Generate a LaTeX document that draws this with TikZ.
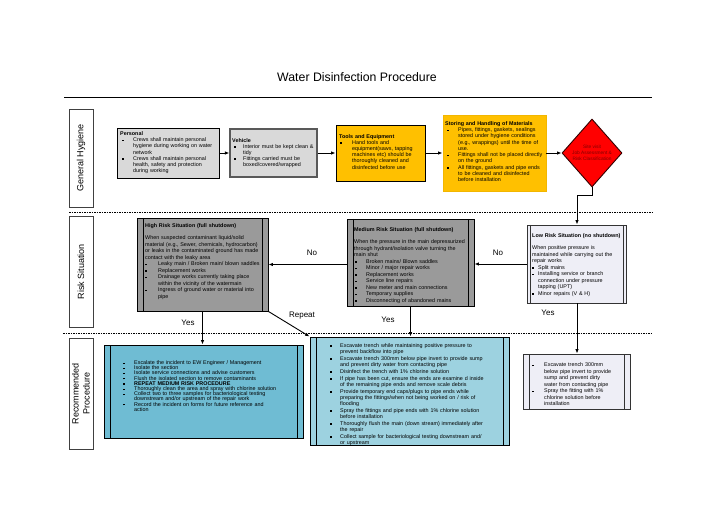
\documentclass[tikz,border=0pt]{standalone}
\usepackage{fontspec}
\setmainfont{Liberation Sans}
\usetikzlibrary{arrows.meta,shapes.geometric}
\definecolor{lgrey}{HTML}{D9D9D9}
\definecolor{mgrey}{HTML}{9A9A9A}
\definecolor{amber}{HTML}{FFC000}
\definecolor{amberedge}{HTML}{F2B600}
\definecolor{lav}{HTML}{EEEEF6}
\definecolor{blueA}{HTML}{6FBCD3}
\definecolor{blueB}{HTML}{9DD2E0}
\definecolor{dred}{HTML}{7F0000}
\newenvironment{blist}[3]{%
 \begin{list}{\rule[0.6bp]{1.3bp}{1.3bp}}{%
 \setlength\leftmargin{#1}\setlength\labelwidth{1.3bp}%
 \setlength\labelsep{\dimexpr #1-#2-1.3bp\relax}%
 \setlength\itemsep{#3}\setlength\parsep{0pt}\setlength\topsep{0pt}%
 \setlength\partopsep{0pt}\setlength\itemindent{0pt}\setlength\rightmargin{0pt}%
 \setlength\listparindent{0pt}}}%
 {\end{list}}
\begin{document}
\setlength\lineskiplimit{-6bp}
\begin{tikzpicture}[x=1bp,y=-1bp,
 box/.style={draw=black, line width=0.9bp, inner sep=0pt},
 dbl/.style={path picture={\draw[line width=0.9bp]
   ([xshift=#1]path picture bounding box.north west) -- ([xshift=#1]path picture bounding box.south west)
   ([xshift=-#1]path picture bounding box.north east) -- ([xshift=-#1]path picture bounding box.south east);}},
 dbl/.default=6bp,
 txt/.style={anchor=north west, inner sep=0pt, align=left, text width=#1},
 fs/.style={font=\fontsize{5.4bp}{#1}\selectfont},
 arr/.style={-{Latex[length=4.5bp,width=3.5bp]}, line width=0.9bp},
 lbl/.style={font=\fontsize{8bp}{9bp}\selectfont, inner sep=0pt},
 lane/.style={draw=black!75, line width=0.9bp, fill=white, inner sep=0pt, align=center,
   font=\fontsize{9bp}{11bp}\selectfont},
 sep/.style={line width=0.7bp, dash pattern=on 1.5bp off 1bp}]
\useasboundingbox[fill=white] (0,0) rectangle (728,515);

\node[font=\fontsize{12.3bp}{14bp}\selectfont] (title) at (357,77) {Water Disinfection Procedure};

% lane separators
\draw[line width=0.8bp] (64,97) -- (652,97);
\draw[sep] (69,212) -- (652,212);
\draw[sep] (63,333) -- (652,333);

% lane labels
\node[lane, rotate=90, minimum width=98bp, minimum height=24bp] (lg) at (81,158) {General Hygiene};
\node[lane, rotate=90, minimum width=111bp, minimum height=24bp] (lr) at (81,271.5) {Risk Situation};
\node[lane, rotate=90, minimum width=111bp, minimum height=24bp] (lp) at (81,393.5) {Recommended\\Procedure};

% general hygiene row
\node[box, fill=lgrey, minimum width=102bp, minimum height=50bp] (per) at (168,153) {};
\node[txt=100bp, fs=6.3bp] (pert) at (120,131) {\textbf{Personal}
 \begin{blist}{13bp}{2bp}{0pt}
 \item Crews shall maintain personal\\hygiene during working on water\\network
 \item Crews shall maintain personal\\health, safety and protection\\during working
 \end{blist}};

\node[box, draw=black!65, line width=1.2bp, fill=lgrey, minimum width=87bp, minimum height=48bp] (veh) at (273.5,153) {};
\node[txt=90bp, fs=6bp] (veht) at (232,138) {\textbf{Vehicle}
 \begin{blist}{11bp}{2bp}{0pt}
 \item Interior must be kept clean \&\\tidy
 \item Fittings carried must be\\boxed/covered/wrapped
 \end{blist}};

\node[box, fill=amber, minimum width=89bp, minimum height=56bp] (tool) at (380.5,153) {};
\node[txt=90bp, fs=6.2bp] (toolt) at (339,134) {\textbf{Tools and Equipment}
 \begin{blist}{13bp}{1bp}{0pt}
 \item Hand tools and\\equipment(saws, tapping\\machines etc) should be\\thoroughly cleaned and\\disinfected before use
 \end{blist}};

\node[box, draw=amberedge, fill=amber, minimum width=103bp, minimum height=76bp] (stor) at (494.5,153) {};
\node[txt=110bp, fs=6.3bp] (stort) at (445,121) {\textbf{Storing and Handling of Materials}
 \begin{blist}{13bp}{2bp}{0pt}
 \item Pipes, fittings, gaskets, sealings\\stored under hygiene conditions\\(e.g., wrappings) until the time of\\use.
 \item Fittings shall not be placed directly\\on the ground
 \item All fittings, gaskets and pipe ends\\to be cleaned and disinfected\\before installation
 \end{blist}};

\node[diamond, draw=black!80!red, line width=0.9bp, fill=red, minimum width=60bp, minimum height=68bp,
  inner sep=0pt, align=center, text=dred, font=\fontsize{4.8bp}{5.8bp}\selectfont] (dia) at (592,153)
  {Site visit\\Job Assessment \&\\Risk Classification};

\draw[arr] (per.east) -- (veh.west);
\draw[arr] (veh.east) -- (tool.west);
\draw[arr] (tool.east) -- (stor.west);
\draw[arr] (stor.east) -- (dia.west);

% risk row
\node[box, fill=mgrey, dbl, minimum width=131bp, minimum height=93bp] (hi) at (202.5,264.5) {};
\node[txt=125bp, fs=6.5bp] (hit) at (145,223) {\textbf{High Risk Situation (full shutdown)}\par\vspace{6bp}
 When suspected contaminant liquid/solid\\material (e.g., Sewer, chemicals, hydrocarbon)\\or leaks in the contaminated ground has made\\contact with the leaky area
 \begin{blist}{13bp}{0bp}{0pt}
 \item Leaky main / Broken main/ blown saddles
 \item Replacement works
 \item Drainage works currently taking place\\within the vicinity of the watermain
 \item Ingress of ground water or material into\\pipe
 \end{blist}};

\node[box, fill=mgrey, dbl, minimum width=127bp, minimum height=87bp] (med) at (410.5,262.5) {};
\node[txt=120bp, fs=6.5bp] (medt) at (354,227) {\textbf{Medium Risk Situation (full shutdown)}\par\vspace{6bp}
 When the pressure in the main depressurized\\through hydrant/isolation valve turning the\\main shut
 \begin{blist}{12bp}{1bp}{0pt}
 \item Broken mains/ Blown saddles
 \item Minor / major repair works
 \item Replacement works
 \item Service line repairs
 \item New meter and main connections
 \item Temporary supplies
 \item Disconnecting of abandoned mains
 \end{blist}};

\node[box, draw=black!80, fill=lav, dbl=3bp, minimum width=99bp, minimum height=78bp] (low) at (577,264) {};
\node[txt=95bp, fs=6.5bp] (lowt) at (532,233) {\textbf{Low Risk Situation (no shutdown)}\par\vspace{6bp}
 When positive pressure is\\maintained while carrying out the\\repair works
 \begin{blist}{6bp}{0bp}{0pt}
 \item Split mains
 \item Installing service or branch\\connection under pressure\\tapping (UPT)
 \item Minor repairs (V \& H)
 \end{blist}};

\draw[arr] (dia.south) -- ++(0,8) -| (low.north);
\draw[arr] (low.west) -- (med.east |- low.west);
\draw[arr] (med.west |- hi.east) -- (hi.east);
\node[lbl] (no1) at (312,253) {No};
\node[lbl] (no2) at (498,253) {No};

% procedure row
\node[box, fill=blueA, dbl, minimum width=199bp, minimum height=93bp] (bl) at (203.5,391.5) {};
\node[txt=175bp, fs=5.2bp] (blt) at (123,359) {%
 \begin{blist}{11bp}{0bp}{0pt}
 \item Escalate the incident to EW Engineer / Management
 \item Isolate the section
 \item Isolate service connections and advise customers
 \item Flush the isolated section to remove contaminants
 \item \textbf{REPEAT MEDIUM RISK PROCEDURE}
 \item Thoroughly clean the area and spray with chlorine solution
 \item Collect two to three samples for bacteriological testing\\downstream and/or upstream of the repair work
 \item Record the incident on forms for future reference and\\action
 \end{blist}};

\node[box, fill=blueB, dbl, minimum width=199bp, minimum height=108bp] (bm) at (409.5,391) {};
\node[txt=175bp, fs=6bp] (bmt) at (330,341) {%
 \begin{blist}{10bp}{0bp}{1bp}
 \item Excavate trench while maintaining positive pressure to\\prevent backflow into pipe
 \item Excavate trench 300mm below pipe invert to provide sump\\and prevent dirty water from contacting pipe
 \item Disinfect the trench with 1\% chlorine solution
 \item If pipe has been cut, ensure the ends are examine d inside\\of the remaining pipe ends and remove scale debris
 \item Provide temporary end caps/plugs to pipe ends while\\preparing the fittings/when not being worked on / risk of\\flooding
 \item Spray the fittings and pipe ends with 1\% chlorine solution\\before installation
 \item Thoroughly flush the main (down stream) immediately after\\the repair
 \item Collect sample for bacteriological testing downstream and/\\or upstream
 \end{blist}};

\node[box, draw=black!80, fill=lav, dbl, minimum width=107bp, minimum height=55bp] (br) at (577,381.5) {};
\node[txt=95bp, fs=6.5bp] (brt) at (532,360) {%
 \begin{blist}{12bp}{0bp}{0pt}
 \item Excavate trench 300mm\\below pipe invert to provide\\sump and prevent dirty\\water from contacting pipe
 \item Spray the fitting with 1\%\\chlorine solution before\\installation
 \end{blist}};

\draw[arr] (hi.south) -- (hi.south |- bl.north);
\draw[arr] (med.south) -- (med.south |- bm.north);
\draw[arr] (low.south) -- (br.north);
\draw[arr] (hi.south east) -- (bm.north west);
\node[lbl] (yes1) at (188,323) {Yes};
\node[lbl] (yes2) at (388,320) {Yes};
\node[lbl] (yes3) at (548,313) {Yes};
\node[lbl] (rep) at (302,316) {Repeat};
\end{tikzpicture}
\end{document}
